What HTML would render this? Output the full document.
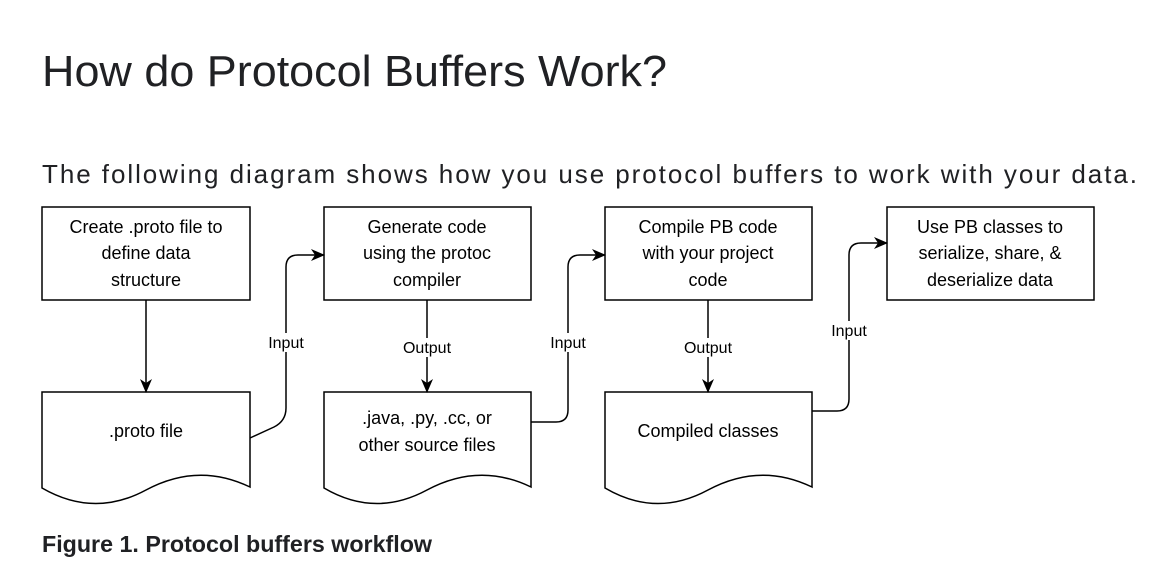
<!DOCTYPE html>
<html><head><meta charset="utf-8"><style>
html,body{margin:0;padding:0;background:#fff;}
svg{display:block;}
</style></head><body>
<svg width="1163" height="584" viewBox="0 0 1163 584" xmlns="http://www.w3.org/2000/svg">
<defs>
<marker id="ah" markerWidth="14" markerHeight="12" refX="13" refY="6" orient="auto" markerUnits="userSpaceOnUse">
<path d="M0,0 L14,6 L0,12 L4,6 Z" fill="#000"/>
</marker>
</defs>
<text x="42" y="86" font-family="Liberation Sans, sans-serif" font-size="44" fill="#202124" textLength="625" lengthAdjust="spacingAndGlyphs">How do Protocol Buffers Work?</text>
<text x="42" y="183" font-family="Liberation Sans, sans-serif" font-size="26" fill="#202124" textLength="1095" lengthAdjust="spacing">The following diagram shows how you use protocol buffers to work with your data.</text>
<text x="42" y="552" font-family="Liberation Sans, sans-serif" font-size="23" font-weight="bold" fill="#202124" textLength="390" lengthAdjust="spacingAndGlyphs">Figure 1. Protocol buffers workflow</text>

<g fill="#fff" stroke="#000" stroke-width="1.5">
<rect x="42" y="207" width="208" height="93"/>
<rect x="324" y="207" width="207" height="93"/>
<rect x="605" y="207" width="207" height="93"/>
<rect x="887" y="207" width="207" height="93"/>
<path d="M42,392 H250 V487 Q198,462 146,490 Q94,518 42,488 Z"/>
<path d="M324,392 H531 V487 Q479,462 427,490 Q375,518 324,488 Z"/>
<path d="M605,392 H812 V487 Q760,462 708,490 Q656,518 605,488 Z"/>
</g>

<g fill="none" stroke="#000" stroke-width="1.5">
<path d="M146,300 V392" marker-end="url(#ah)"/>
<path d="M427,300 V392" marker-end="url(#ah)"/>
<path d="M708,300 V392" marker-end="url(#ah)"/>
<path d="M250,438 L274,427 Q286,421 286,408 V267 Q286,255 298,255 H324" marker-end="url(#ah)"/>
<path d="M531,422 H556 Q568,422 568,410 V267 Q568,255 580,255 H605" marker-end="url(#ah)"/>
<path d="M812,411 H837 Q849,411 849,399 V255 Q849,243 861,243 H887" marker-end="url(#ah)"/>
</g>

<g font-family="Liberation Sans, sans-serif" font-size="16" fill="#000" text-anchor="middle">
<rect x="264" y="333" width="44" height="19" fill="#fff"/>
<text x="286" y="348">Input</text>
<rect x="546" y="333" width="44" height="19" fill="#fff"/>
<text x="568" y="348">Input</text>
<rect x="827" y="321" width="44" height="19" fill="#fff"/>
<text x="849" y="336">Input</text>
<rect x="400" y="338" width="54" height="19" fill="#fff"/>
<text x="427" y="353">Output</text>
<rect x="681" y="338" width="54" height="19" fill="#fff"/>
<text x="708" y="353">Output</text>
</g>

<g font-family="Liberation Sans, sans-serif" font-size="18" fill="#000" text-anchor="middle">
<text x="146" y="233">Create .proto file to</text>
<text x="146" y="259">define data</text>
<text x="146" y="286">structure</text>
<text x="427" y="233">Generate code</text>
<text x="427" y="259">using the protoc</text>
<text x="427" y="286">compiler</text>
<text x="708" y="233">Compile PB code</text>
<text x="708" y="259">with your project</text>
<text x="708" y="286">code</text>
<text x="990" y="233">Use PB classes to</text>
<text x="990" y="259">serialize, share, &amp;</text>
<text x="990" y="286">deserialize data</text>
<text x="146" y="437">.proto file</text>
<text x="427" y="424">.java, .py, .cc, or</text>
<text x="427" y="451">other source files</text>
<text x="708" y="437">Compiled classes</text>
</g>
</svg>
</body></html>
